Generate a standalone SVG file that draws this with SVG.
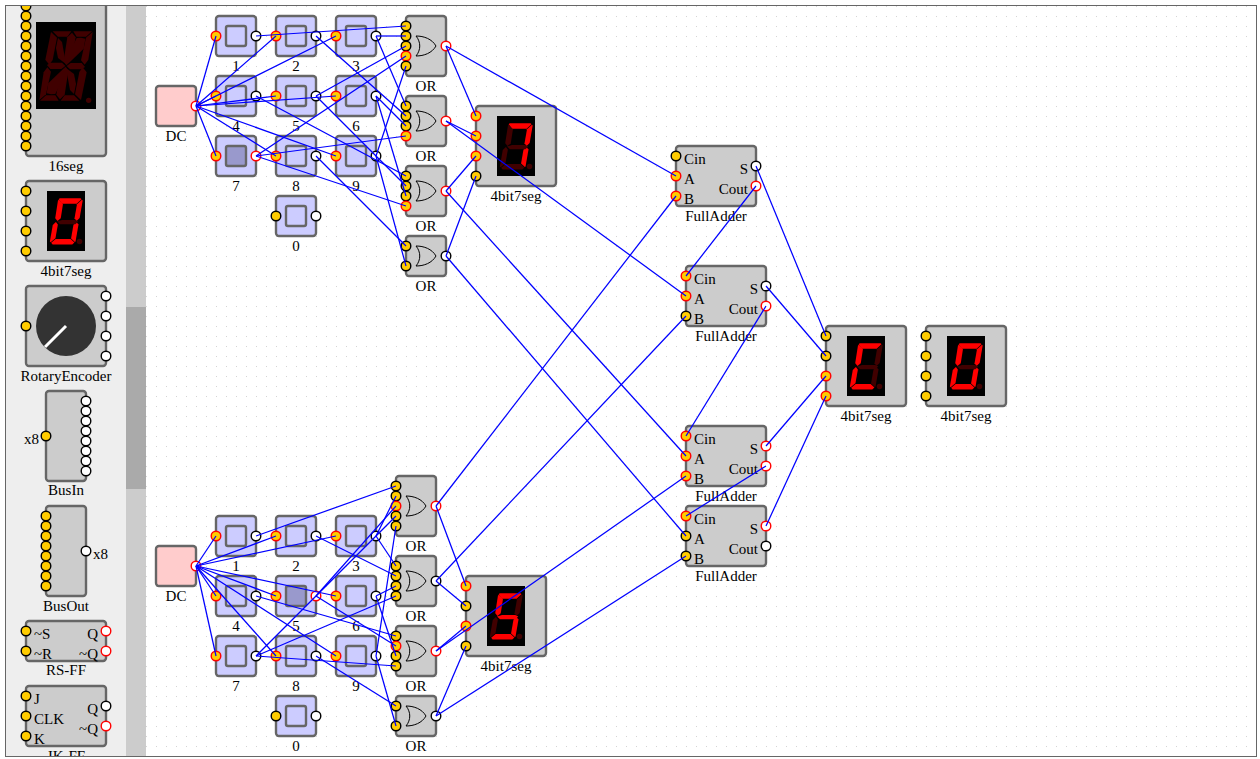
<svg xmlns="http://www.w3.org/2000/svg" width="1260" height="759" viewBox="0 0 1260 759">
<style>
.b{fill:#ccc;stroke:#666;stroke-width:2.4}
.s{fill:#ccf;stroke:#666;stroke-width:2.4}
.p{fill:#99c;stroke:#666;stroke-width:2.4}
.dc{fill:#fcc;stroke:#666;stroke-width:2.4}
.i{fill:#fc0;stroke:#000;stroke-width:1.4}
.io{fill:#fc0;stroke:#f00;stroke-width:1.4}
.o{fill:#fff;stroke:#000;stroke-width:1.4}
.oo{fill:#fff;stroke:#f00;stroke-width:1.4}
.g{fill:none;stroke:#000;stroke-width:1}
.h{fill:#f00}
.l{fill:#400000}
circle{r:4.8px}
text{font-family:"Liberation Serif","Times New Roman",serif;font-size:15px;fill:#000}
.m{text-anchor:middle}
.e{text-anchor:end}
#connectors line{stroke:#00f;stroke-width:1.25}
</style>
<defs>
<pattern id="dots" x="146" y="6" width="10" height="10" patternUnits="userSpaceOnUse"><rect width="1" height="1" fill="#d4d4d4"/></pattern>
<clipPath id="panel"><rect x="6" y="6" width="120" height="750"/></clipPath>
<polygon id="sa" points="575,138 494,211 249,211 194,137 213,120 559,120"/>
<polygon id="sb" points="595,160 544,452 493,500 459,456 500,220 582,146"/>
<polygon id="sc" points="525,560 476,842 465,852 401,792 441,562 491,516"/>
<polygon id="sd" points="457,860 421,892 94,892 69,864 144,801 394,801"/>
<polygon id="se" points="181,560 141,789 61,856 48,841 96,566 148,516"/>
<polygon id="sf" points="266,219 229,453 176,501 137,454 183,157 199,145"/>
<polygon id="sg" points="251,483 470,483 522,508 472,554 217,554 167,509"/>
<circle id="sp" cx="542" cy="840" style="r:46px"/>
<g id="d0"><use href="#sa" class="h"/><use href="#sb" class="h"/><use href="#sc" class="h"/><use href="#sd" class="h"/><use href="#se" class="h"/><use href="#sf" class="h"/><use href="#sg" class="l"/><use href="#sp" class="l"/></g>
<g id="d5"><use href="#sa" class="h"/><use href="#sb" class="l"/><use href="#sc" class="h"/><use href="#sd" class="h"/><use href="#se" class="l"/><use href="#sf" class="h"/><use href="#sg" class="h"/><use href="#sp" class="l"/></g>
<g id="d7"><use href="#sa" class="h"/><use href="#sb" class="h"/><use href="#sc" class="h"/><use href="#sd" class="l"/><use href="#se" class="l"/><use href="#sf" class="l"/><use href="#sg" class="l"/><use href="#sp" class="l"/></g>
<g id="dC"><use href="#sa" class="h"/><use href="#sb" class="l"/><use href="#sc" class="l"/><use href="#sd" class="h"/><use href="#se" class="h"/><use href="#sf" class="h"/><use href="#sg" class="l"/><use href="#sp" class="l"/></g>
<path id="orgate" class="g" d="M0,0C8,0 16,3 20,10C16,17 8,20 0,20C5,14 5,6 0,0Z"/>
</defs>
<rect x="146" y="6" width="1110" height="750" fill="#fff"/>
<rect x="146" y="6" width="1110" height="750" fill="url(#dots)"/>
<rect x="6" y="6" width="120" height="750" fill="#eee"/>
<rect x="126" y="6" width="20" height="750" fill="#ccc"/>
<rect x="126" y="307" width="20" height="182" fill="#aaa"/>
<g id="palette" clip-path="url(#panel)">
<g id="pal-16seg" transform="translate(26,-4)">
<rect class="b" width="80" height="160" rx="3"/>
<rect x="10" y="26" width="60" height="87" fill="#000"/>
<g class="l" transform="translate(10,26) scale(.3333)">
<polygon points="50,28 106,28 94,44 66,44"/><polygon points="112,28 168,28 150,44 122,44"/>
<polygon points="45,30 63,47 50,114 40,128 28,113"/><polygon points="170,30 157,113 146,128 135,115 150,47"/>
<polygon points="108,32 119,46 108,108 91,130 83,118 94,46"/><polygon points="66,48 78,60 90,126 66,108 60,78"/>
<polygon points="148,50 143,80 112,110 93,128 106,80 122,48 135,47"/>
<polygon points="33,129 44,122 78,122 88,132 76,141 43,141"/><polygon points="147,135 136,142 102,142 92,132 104,123 137,123"/>
<polygon points="10,234 23,151 34,136 45,149 30,217"/><polygon points="135,234 117,217 130,150 140,136 152,151"/>
<polygon points="72,232 61,218 72,156 89,134 97,146 86,218"/><polygon points="32,214 37,184 68,154 87,136 74,184 58,216 45,217"/>
<polygon points="114,216 102,204 90,138 114,156 120,186"/>
<polygon points="68,236 12,236 30,220 58,220"/><polygon points="130,236 74,236 86,220 114,220"/>
<circle cx="158" cy="235" style="r:8px"/>
</g>
<circle class="i" cx="0" cy="10"/><circle class="i" cx="0" cy="20"/><circle class="i" cx="0" cy="30"/><circle class="i" cx="0" cy="40"/><circle class="i" cx="0" cy="50"/><circle class="i" cx="0" cy="60"/><circle class="i" cx="0" cy="70"/><circle class="i" cx="0" cy="80"/><circle class="i" cx="0" cy="90"/><circle class="i" cx="0" cy="100"/><circle class="i" cx="0" cy="110"/><circle class="i" cx="0" cy="120"/><circle class="i" cx="0" cy="130"/><circle class="i" cx="0" cy="140"/><circle class="i" cx="0" cy="150"/>
<text class="m" x="40" y="175">16seg</text>
</g>
<g id="pal-4bit7seg" transform="translate(26,181)">
<rect class="b" width="80" height="80" rx="3"/>
<rect x="21" y="10" width="38" height="60" fill="#000"/>
<use href="#d0" transform="translate(21,10) scale(.06)"/>
<circle class="i" cx="0" cy="10"/><circle class="i" cx="0" cy="30"/><circle class="i" cx="0" cy="50"/><circle class="i" cx="0" cy="70"/>
<text class="m" x="40" y="95">4bit7seg</text>
</g>
<g id="pal-rotary" transform="translate(26,286)">
<rect class="b" width="80" height="80" rx="3"/>
<circle cx="40" cy="40" style="r:30px" fill="#333"/>
<line x1="40" y1="40" x2="19" y2="61" stroke="#fff" stroke-width="3"/>
<circle class="i" cx="0" cy="40"/>
<circle class="o" cx="80" cy="10"/><circle class="o" cx="80" cy="30"/><circle class="o" cx="80" cy="50"/><circle class="o" cx="80" cy="70"/>
<text class="m" x="40" y="95">RotaryEncoder</text>
</g>
<g id="pal-busin" transform="translate(46,391)">
<rect class="b" width="40" height="90" rx="3"/>
<circle class="i" cx="0" cy="45"/>
<circle class="o" cx="40" cy="10"/><circle class="o" cx="40" cy="20"/><circle class="o" cx="40" cy="30"/><circle class="o" cx="40" cy="40"/><circle class="o" cx="40" cy="50"/><circle class="o" cx="40" cy="60"/><circle class="o" cx="40" cy="70"/><circle class="o" cx="40" cy="80"/>
<text class="e" x="-7" y="53">x8</text>
<text class="m" x="20" y="104">BusIn</text>
</g>
<g id="pal-busout" transform="translate(46,506)">
<rect class="b" width="40" height="90" rx="3"/>
<circle class="i" cx="0" cy="10"/><circle class="i" cx="0" cy="20"/><circle class="i" cx="0" cy="30"/><circle class="i" cx="0" cy="40"/><circle class="i" cx="0" cy="50"/><circle class="i" cx="0" cy="60"/><circle class="i" cx="0" cy="70"/><circle class="i" cx="0" cy="80"/>
<circle class="o" cx="40" cy="45"/>
<text x="47" y="53">x8</text>
<text class="m" x="20" y="105">BusOut</text>
</g>
<g id="pal-rsff" transform="translate(26,621)">
<rect class="b" width="80" height="40" rx="3"/>
<circle class="i" cx="0" cy="10"/><circle class="i" cx="0" cy="30"/>
<circle class="oo" cx="80" cy="10"/><circle class="oo" cx="80" cy="30"/>
<text x="8" y="18">~S</text><text x="8" y="38">~R</text>
<text class="e" x="72" y="18">Q</text><text class="e" x="72" y="38">~Q</text>
<text class="m" x="40" y="54">RS-FF</text>
</g>
<g id="pal-jkff" transform="translate(26,686)">
<rect class="b" width="80" height="60" rx="3"/>
<circle class="i" cx="0" cy="10"/><circle class="i" cx="0" cy="30"/><circle class="i" cx="0" cy="50"/>
<circle class="o" cx="80" cy="20"/><circle class="oo" cx="80" cy="40"/>
<text x="8" y="18">J</text><text x="8" y="38">CLK</text><text x="8" y="58">K</text>
<text class="e" x="72" y="28">Q</text><text class="e" x="72" y="48">~Q</text>
<text class="m" x="40" y="75">JK-FF</text>
</g>
</g>
<g id="top-dc" transform="translate(156,86)"><rect class="dc" width="40" height="40" rx="3"/><circle class="oo" cx="40" cy="20"/><text class="m" x="20" y="55">DC</text></g>
<g id="top-sw1" transform="translate(216,16)"><rect class="s" width="40" height="40" rx="3"/><rect class="s" x="10" y="10" width="20" height="20" rx="2"/><circle class="io" cx="0" cy="20"/><circle class="o" cx="40" cy="20"/><text class="m" x="20" y="55">1</text></g>
<g id="top-sw2" transform="translate(276,16)"><rect class="s" width="40" height="40" rx="3"/><rect class="s" x="10" y="10" width="20" height="20" rx="2"/><circle class="io" cx="0" cy="20"/><circle class="o" cx="40" cy="20"/><text class="m" x="20" y="55">2</text></g>
<g id="top-sw3" transform="translate(336,16)"><rect class="s" width="40" height="40" rx="3"/><rect class="s" x="10" y="10" width="20" height="20" rx="2"/><circle class="io" cx="0" cy="20"/><circle class="o" cx="40" cy="20"/><text class="m" x="20" y="55">3</text></g>
<g id="top-sw4" transform="translate(216,76)"><rect class="s" width="40" height="40" rx="3"/><rect class="s" x="10" y="10" width="20" height="20" rx="2"/><circle class="io" cx="0" cy="20"/><circle class="o" cx="40" cy="20"/><text class="m" x="20" y="55">4</text></g>
<g id="top-sw5" transform="translate(276,76)"><rect class="s" width="40" height="40" rx="3"/><rect class="s" x="10" y="10" width="20" height="20" rx="2"/><circle class="io" cx="0" cy="20"/><circle class="o" cx="40" cy="20"/><text class="m" x="20" y="55">5</text></g>
<g id="top-sw6" transform="translate(336,76)"><rect class="s" width="40" height="40" rx="3"/><rect class="s" x="10" y="10" width="20" height="20" rx="2"/><circle class="io" cx="0" cy="20"/><circle class="o" cx="40" cy="20"/><text class="m" x="20" y="55">6</text></g>
<g id="top-sw7" transform="translate(216,136)"><rect class="s" width="40" height="40" rx="3"/><rect class="p" x="10" y="10" width="20" height="20" rx="2"/><circle class="io" cx="0" cy="20"/><circle class="oo" cx="40" cy="20"/><text class="m" x="20" y="55">7</text></g>
<g id="top-sw8" transform="translate(276,136)"><rect class="s" width="40" height="40" rx="3"/><rect class="s" x="10" y="10" width="20" height="20" rx="2"/><circle class="io" cx="0" cy="20"/><circle class="o" cx="40" cy="20"/><text class="m" x="20" y="55">8</text></g>
<g id="top-sw9" transform="translate(336,136)"><rect class="s" width="40" height="40" rx="3"/><rect class="s" x="10" y="10" width="20" height="20" rx="2"/><circle class="io" cx="0" cy="20"/><circle class="o" cx="40" cy="20"/><text class="m" x="20" y="55">9</text></g>
<g id="top-sw0" transform="translate(276,196)"><rect class="s" width="40" height="40" rx="3"/><rect class="s" x="10" y="10" width="20" height="20" rx="2"/><circle class="i" cx="0" cy="20"/><circle class="o" cx="40" cy="20"/><text class="m" x="20" y="55">0</text></g>
<g id="top-or1" transform="translate(406,16)"><rect class="b" width="40" height="60" rx="3"/><use href="#orgate" x="10" y="20"/><circle class="i" cx="0" cy="10"/><circle class="i" cx="0" cy="20"/><circle class="i" cx="0" cy="30"/><circle class="io" cx="0" cy="40"/><circle class="i" cx="0" cy="50"/><circle class="oo" cx="40" cy="30"/><text class="m" x="20" y="75">OR</text></g>
<g id="top-or2" transform="translate(406,96)"><rect class="b" width="40" height="50" rx="3"/><use href="#orgate" x="10" y="15"/><circle class="i" cx="0" cy="10"/><circle class="i" cx="0" cy="20"/><circle class="i" cx="0" cy="30"/><circle class="io" cx="0" cy="40"/><circle class="oo" cx="40" cy="25"/><text class="m" x="20" y="65">OR</text></g>
<g id="top-or3" transform="translate(406,166)"><rect class="b" width="40" height="50" rx="3"/><use href="#orgate" x="10" y="15"/><circle class="i" cx="0" cy="10"/><circle class="i" cx="0" cy="20"/><circle class="i" cx="0" cy="30"/><circle class="io" cx="0" cy="40"/><circle class="oo" cx="40" cy="25"/><text class="m" x="20" y="65">OR</text></g>
<g id="top-or4" transform="translate(406,236)"><rect class="b" width="40" height="40" rx="3"/><use href="#orgate" x="10" y="10"/><circle class="i" cx="0" cy="10"/><circle class="i" cx="0" cy="30"/><circle class="o" cx="40" cy="20"/><text class="m" x="20" y="55">OR</text></g>
<g id="top-seg" transform="translate(476,106)"><rect class="b" width="80" height="80" rx="3"/><rect x="21" y="10" width="38" height="60" fill="#000"/><use href="#d7" transform="translate(21,10) scale(.06)"/><circle class="io" cx="0" cy="10"/><circle class="io" cx="0" cy="30"/><circle class="io" cx="0" cy="50"/><circle class="i" cx="0" cy="70"/><text class="m" x="40" y="95">4bit7seg</text></g>
<g id="bot-dc" transform="translate(156,546)"><rect class="dc" width="40" height="40" rx="3"/><circle class="oo" cx="40" cy="20"/><text class="m" x="20" y="55">DC</text></g>
<g id="bot-sw1" transform="translate(216,516)"><rect class="s" width="40" height="40" rx="3"/><rect class="s" x="10" y="10" width="20" height="20" rx="2"/><circle class="io" cx="0" cy="20"/><circle class="o" cx="40" cy="20"/><text class="m" x="20" y="55">1</text></g>
<g id="bot-sw2" transform="translate(276,516)"><rect class="s" width="40" height="40" rx="3"/><rect class="s" x="10" y="10" width="20" height="20" rx="2"/><circle class="io" cx="0" cy="20"/><circle class="o" cx="40" cy="20"/><text class="m" x="20" y="55">2</text></g>
<g id="bot-sw3" transform="translate(336,516)"><rect class="s" width="40" height="40" rx="3"/><rect class="s" x="10" y="10" width="20" height="20" rx="2"/><circle class="io" cx="0" cy="20"/><circle class="o" cx="40" cy="20"/><text class="m" x="20" y="55">3</text></g>
<g id="bot-sw4" transform="translate(216,576)"><rect class="s" width="40" height="40" rx="3"/><rect class="s" x="10" y="10" width="20" height="20" rx="2"/><circle class="io" cx="0" cy="20"/><circle class="o" cx="40" cy="20"/><text class="m" x="20" y="55">4</text></g>
<g id="bot-sw5" transform="translate(276,576)"><rect class="s" width="40" height="40" rx="3"/><rect class="p" x="10" y="10" width="20" height="20" rx="2"/><circle class="io" cx="0" cy="20"/><circle class="oo" cx="40" cy="20"/><text class="m" x="20" y="55">5</text></g>
<g id="bot-sw6" transform="translate(336,576)"><rect class="s" width="40" height="40" rx="3"/><rect class="s" x="10" y="10" width="20" height="20" rx="2"/><circle class="io" cx="0" cy="20"/><circle class="o" cx="40" cy="20"/><text class="m" x="20" y="55">6</text></g>
<g id="bot-sw7" transform="translate(216,636)"><rect class="s" width="40" height="40" rx="3"/><rect class="s" x="10" y="10" width="20" height="20" rx="2"/><circle class="io" cx="0" cy="20"/><circle class="o" cx="40" cy="20"/><text class="m" x="20" y="55">7</text></g>
<g id="bot-sw8" transform="translate(276,636)"><rect class="s" width="40" height="40" rx="3"/><rect class="s" x="10" y="10" width="20" height="20" rx="2"/><circle class="io" cx="0" cy="20"/><circle class="o" cx="40" cy="20"/><text class="m" x="20" y="55">8</text></g>
<g id="bot-sw9" transform="translate(336,636)"><rect class="s" width="40" height="40" rx="3"/><rect class="s" x="10" y="10" width="20" height="20" rx="2"/><circle class="io" cx="0" cy="20"/><circle class="o" cx="40" cy="20"/><text class="m" x="20" y="55">9</text></g>
<g id="bot-sw0" transform="translate(276,696)"><rect class="s" width="40" height="40" rx="3"/><rect class="s" x="10" y="10" width="20" height="20" rx="2"/><circle class="i" cx="0" cy="20"/><circle class="o" cx="40" cy="20"/><text class="m" x="20" y="55">0</text></g>
<g id="bot-or1" transform="translate(396,476)"><rect class="b" width="40" height="60" rx="3"/><use href="#orgate" x="10" y="20"/><circle class="i" cx="0" cy="10"/><circle class="i" cx="0" cy="20"/><circle class="io" cx="0" cy="30"/><circle class="i" cx="0" cy="40"/><circle class="i" cx="0" cy="50"/><circle class="oo" cx="40" cy="30"/><text class="m" x="20" y="75">OR</text></g>
<g id="bot-or2" transform="translate(396,556)"><rect class="b" width="40" height="50" rx="3"/><use href="#orgate" x="10" y="15"/><circle class="i" cx="0" cy="10"/><circle class="i" cx="0" cy="20"/><circle class="i" cx="0" cy="30"/><circle class="i" cx="0" cy="40"/><circle class="o" cx="40" cy="25"/><text class="m" x="20" y="65">OR</text></g>
<g id="bot-or3" transform="translate(396,626)"><rect class="b" width="40" height="50" rx="3"/><use href="#orgate" x="10" y="15"/><circle class="i" cx="0" cy="10"/><circle class="io" cx="0" cy="20"/><circle class="i" cx="0" cy="30"/><circle class="i" cx="0" cy="40"/><circle class="oo" cx="40" cy="25"/><text class="m" x="20" y="65">OR</text></g>
<g id="bot-or4" transform="translate(396,696)"><rect class="b" width="40" height="40" rx="3"/><use href="#orgate" x="10" y="10"/><circle class="i" cx="0" cy="10"/><circle class="i" cx="0" cy="30"/><circle class="o" cx="40" cy="20"/><text class="m" x="20" y="55">OR</text></g>
<g id="bot-seg" transform="translate(466,576)"><rect class="b" width="80" height="80" rx="3"/><rect x="21" y="10" width="38" height="60" fill="#000"/><use href="#d5" transform="translate(21,10) scale(.06)"/><circle class="io" cx="0" cy="10"/><circle class="i" cx="0" cy="30"/><circle class="io" cx="0" cy="50"/><circle class="i" cx="0" cy="70"/><text class="m" x="40" y="95">4bit7seg</text></g>
<g id="fa1" transform="translate(676,146)"><rect class="b" width="80" height="60" rx="3"/><circle class="i" cx="0" cy="10"/><circle class="io" cx="0" cy="30"/><circle class="io" cx="0" cy="50"/><circle class="o" cx="80" cy="20"/><circle class="oo" cx="80" cy="40"/><text x="8" y="18">Cin</text><text x="8" y="38">A</text><text x="8" y="58">B</text><text class="e" x="72" y="28">S</text><text class="e" x="72" y="48">Cout</text><text class="m" x="40" y="75">FullAdder</text></g>
<g id="fa2" transform="translate(686,266)"><rect class="b" width="80" height="60" rx="3"/><circle class="io" cx="0" cy="10"/><circle class="io" cx="0" cy="30"/><circle class="i" cx="0" cy="50"/><circle class="o" cx="80" cy="20"/><circle class="oo" cx="80" cy="40"/><text x="8" y="18">Cin</text><text x="8" y="38">A</text><text x="8" y="58">B</text><text class="e" x="72" y="28">S</text><text class="e" x="72" y="48">Cout</text><text class="m" x="40" y="75">FullAdder</text></g>
<g id="fa3" transform="translate(686,426)"><rect class="b" width="80" height="60" rx="3"/><circle class="io" cx="0" cy="10"/><circle class="io" cx="0" cy="30"/><circle class="io" cx="0" cy="50"/><circle class="oo" cx="80" cy="20"/><circle class="oo" cx="80" cy="40"/><text x="8" y="18">Cin</text><text x="8" y="38">A</text><text x="8" y="58">B</text><text class="e" x="72" y="28">S</text><text class="e" x="72" y="48">Cout</text><text class="m" x="40" y="75">FullAdder</text></g>
<g id="fa4" transform="translate(686,506)"><rect class="b" width="80" height="60" rx="3"/><circle class="io" cx="0" cy="10"/><circle class="i" cx="0" cy="30"/><circle class="i" cx="0" cy="50"/><circle class="oo" cx="80" cy="20"/><circle class="o" cx="80" cy="40"/><text x="8" y="18">Cin</text><text x="8" y="38">A</text><text x="8" y="58">B</text><text class="e" x="72" y="28">S</text><text class="e" x="72" y="48">Cout</text><text class="m" x="40" y="75">FullAdder</text></g>
<g id="sum-seg" transform="translate(826,326)"><rect class="b" width="80" height="80" rx="3"/><rect x="21" y="10" width="38" height="60" fill="#000"/><use href="#dC" transform="translate(21,10) scale(.06)"/><circle class="i" cx="0" cy="10"/><circle class="i" cx="0" cy="30"/><circle class="io" cx="0" cy="50"/><circle class="io" cx="0" cy="70"/><text class="m" x="40" y="95">4bit7seg</text></g>
<g id="spare-seg" transform="translate(926,326)"><rect class="b" width="80" height="80" rx="3"/><rect x="21" y="10" width="38" height="60" fill="#000"/><use href="#d0" transform="translate(21,10) scale(.06)"/><circle class="i" cx="0" cy="10"/><circle class="i" cx="0" cy="30"/><circle class="i" cx="0" cy="50"/><circle class="i" cx="0" cy="70"/><text class="m" x="40" y="95">4bit7seg</text></g>
<g id="connectors">
<line x1="196" y1="106" x2="216" y2="36"/><line x1="196" y1="106" x2="276" y2="36"/><line x1="196" y1="106" x2="336" y2="36"/><line x1="196" y1="106" x2="216" y2="96"/><line x1="196" y1="106" x2="276" y2="96"/><line x1="196" y1="106" x2="336" y2="96"/><line x1="196" y1="106" x2="216" y2="156"/><line x1="196" y1="106" x2="276" y2="156"/><line x1="196" y1="106" x2="336" y2="156"/>
<line x1="256" y1="36" x2="406" y2="26"/><line x1="376" y1="36" x2="406" y2="36"/><line x1="316" y1="96" x2="406" y2="46"/><line x1="256" y1="156" x2="406" y2="56"/><line x1="376" y1="156" x2="406" y2="66"/>
<line x1="376" y1="36" x2="406" y2="106"/><line x1="316" y1="36" x2="406" y2="116"/><line x1="376" y1="96" x2="406" y2="126"/><line x1="256" y1="156" x2="406" y2="136"/>
<line x1="256" y1="96" x2="406" y2="176"/><line x1="316" y1="96" x2="406" y2="186"/><line x1="376" y1="96" x2="406" y2="196"/><line x1="256" y1="156" x2="406" y2="206"/>
<line x1="316" y1="156" x2="406" y2="246"/><line x1="376" y1="156" x2="406" y2="266"/>
<line x1="446" y1="46" x2="476" y2="116"/><line x1="446" y1="121" x2="476" y2="136"/><line x1="446" y1="191" x2="476" y2="156"/><line x1="446" y1="256" x2="476" y2="176"/>
<line x1="446" y1="46" x2="676" y2="176"/><line x1="446" y1="121" x2="686" y2="296"/><line x1="446" y1="191" x2="686" y2="456"/><line x1="446" y1="256" x2="686" y2="536"/>
<line x1="196" y1="566" x2="216" y2="536"/><line x1="196" y1="566" x2="276" y2="536"/><line x1="196" y1="566" x2="336" y2="536"/><line x1="196" y1="566" x2="216" y2="596"/><line x1="196" y1="566" x2="276" y2="596"/><line x1="196" y1="566" x2="336" y2="596"/><line x1="196" y1="566" x2="216" y2="656"/><line x1="196" y1="566" x2="276" y2="656"/><line x1="196" y1="566" x2="336" y2="656"/>
<line x1="256" y1="536" x2="396" y2="486"/><line x1="376" y1="536" x2="396" y2="496"/><line x1="316" y1="596" x2="396" y2="506"/><line x1="256" y1="656" x2="396" y2="516"/><line x1="376" y1="656" x2="396" y2="526"/>
<line x1="376" y1="536" x2="396" y2="566"/><line x1="316" y1="536" x2="396" y2="576"/><line x1="376" y1="596" x2="396" y2="586"/><line x1="256" y1="656" x2="396" y2="596"/>
<line x1="256" y1="596" x2="396" y2="636"/><line x1="316" y1="596" x2="396" y2="646"/><line x1="376" y1="596" x2="396" y2="656"/><line x1="256" y1="656" x2="396" y2="666"/>
<line x1="316" y1="656" x2="396" y2="706"/><line x1="376" y1="656" x2="396" y2="726"/>
<line x1="436" y1="506" x2="466" y2="586"/><line x1="436" y1="581" x2="466" y2="606"/><line x1="436" y1="651" x2="466" y2="626"/><line x1="436" y1="716" x2="466" y2="646"/>
<line x1="436" y1="506" x2="676" y2="196"/><line x1="436" y1="581" x2="686" y2="316"/><line x1="436" y1="651" x2="686" y2="476"/><line x1="436" y1="716" x2="686" y2="556"/>
<line x1="756" y1="166" x2="826" y2="336"/><line x1="766" y1="286" x2="826" y2="356"/><line x1="766" y1="446" x2="826" y2="376"/><line x1="766" y1="526" x2="826" y2="396"/>
<line x1="756" y1="186" x2="686" y2="276"/><line x1="766" y1="306" x2="686" y2="436"/><line x1="766" y1="466" x2="686" y2="516"/>
</g>
<rect id="frame" x="5.5" y="5.5" width="1251" height="751" fill="none" stroke="#666" stroke-width="1"/>
</svg>
